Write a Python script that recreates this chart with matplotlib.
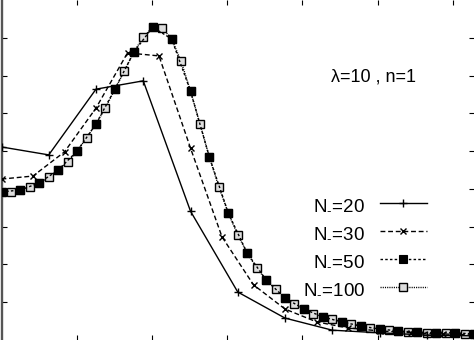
import numpy as np
import matplotlib
matplotlib.use('Agg')
import matplotlib.pyplot as plt

# values (y in arbitrary units, ticks hidden by the crop)
y_n20 = [5.11, 4.90, 6.64, 6.86, 3.41, 1.27, 0.58, 0.26, 0.19, 0.13, 0.11]
y_n30 = [4.26, 4.34, 4.98, 6.14, 7.60, 7.52, 5.08, 2.73, 1.46, 0.82, 0.48,
         0.32, 0.24, 0.19, 0.16, 0.13]
y_n50 = [3.92, 3.97, 4.16, 4.50, 5.00, 5.72, 6.64, 7.62, 8.28, 7.97, 6.59,
         4.84, 3.36, 2.30, 1.59, 1.11, 0.82, 0.61, 0.48, 0.37, 0.29, 0.24,
         0.21, 0.19, 0.19, 0.16]
y_n100 = [3.92, 3.92, 3.97, 4.05, 4.16, 4.31, 4.50, 4.71, 5.00, 5.35, 5.72,
          6.14, 6.64, 7.12, 7.62, 8.02, 8.28, 8.26, 7.97, 7.38, 6.59, 5.72,
          4.84, 4.05, 3.36, 2.78, 2.30, 1.91, 1.59, 1.35, 1.11, 0.95, 0.82,
          0.69, 0.61, 0.56, 0.48, 0.42, 0.37, 0.32, 0.29, 0.26, 0.24, 0.21,
          0.21, 0.19, 0.19, 0.19, 0.19, 0.16, 0.16]

series = [
    (20, y_n20, dict(ls='-', marker='+', ms=6, mew=1.0, zorder=5), r'N$_\text{-}$=20'),
    (30, y_n30, dict(ls=(0, (3.5, 2.0)), marker='x', ms=5, mew=1.0, zorder=4), r'N$_\text{-}$=30'),
    (50, y_n50, dict(ls=(0, (1.8, 1.6)), marker='s', ms=5.4, mfc='black', mew=0.8, zorder=3), r'N$_\text{-}$=50'),
    (100, y_n100, dict(ls=(0, (0.8, 0.8)), marker='s', ms=5.4, mfc='#dddddd', mew=1.0, zorder=2), r'N$_\text{-}$=100'),
]

plt.rcParams['font.family'] = ['Liberation Sans', 'DejaVu Sans']
plt.rcParams['mathtext.fontset'] = 'custom'
plt.rcParams['mathtext.rm'] = 'Liberation Sans'

fig = plt.figure(figsize=(4.74, 3.40), dpi=100)
ax = fig.add_axes([1.5 / 474, 0, 472.5 / 474, 1])

for n, ys, style, label in series:
    xs = np.arange(len(ys)) * 2 * np.pi / n
    ax.plot(xs, ys, color='black', lw=1.0, label=label, **style)

ax.set_xlim(0, np.pi)
ax.set_ylim(0, 9)
ax.set_xticks(np.arange(0.5, 3.1, 0.5))
ax.set_yticks(np.arange(1, 9))
ax.tick_params(direction='in', length=3.6, width=0.8, top=True, right=True,
               labelbottom=False, labelleft=False)
for side in ['top', 'bottom', 'right']:
    ax.spines[side].set_visible(False)
ax.spines['left'].set_color('#555555')
ax.spines['left'].set_linewidth(1.7)

ax.text(0.787, 0.775, 'λ=10 , n=1', transform=ax.transAxes,
        ha='center', va='center', fontsize=13)

ax.legend(loc='upper right', bbox_to_anchor=(0.9, 0.422), frameon=False,
          markerfirst=False, numpoints=1, fontsize=13.5, handlelength=2.5,
          handletextpad=0.8, labelspacing=0.58, borderpad=0, borderaxespad=0)

fig.savefig('out.png', dpi=100)
